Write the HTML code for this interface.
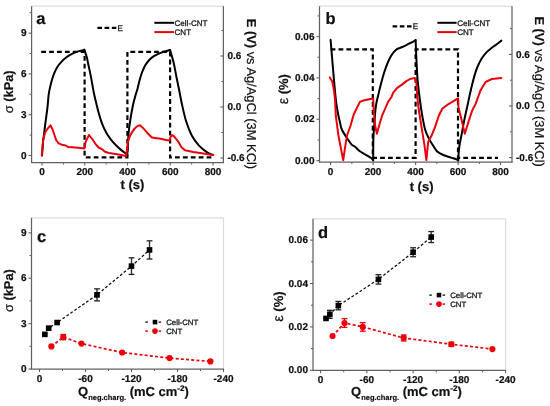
<!DOCTYPE html>
<html><head><meta charset="utf-8"><style>html,body{margin:0;padding:0;width:550px;height:406px;overflow:hidden;background:#fff}</style></head><body>
<svg width="550" height="406" viewBox="0 0 550 406" style="position:absolute;left:0;top:0;will-change:transform">
<rect width="550" height="406" fill="#fff"/>
<g font-family='"Liberation Sans", sans-serif' text-rendering="geometricPrecision">
<line x1="31.6" y1="6.2" x2="223.4" y2="6.2" stroke="#dcdcdc" stroke-width="1.2" />
<line x1="31.6" y1="6.2" x2="31.6" y2="163" stroke="#606060" stroke-width="1.25" />
<line x1="31.1" y1="162.5" x2="223.9" y2="162.5" stroke="#606060" stroke-width="1.25" />
<line x1="223.4" y1="6.2" x2="223.4" y2="163" stroke="#606060" stroke-width="1.25" />
<line x1="42" y1="162.5" x2="42" y2="165.5" stroke="#606060" stroke-width="1.1" />
<text x="42" y="175.4" font-size="10" font-weight="bold" text-anchor="middle" fill="#111" stroke="#111" stroke-width="0.22">0</text>
<line x1="84.75" y1="162.5" x2="84.75" y2="165.5" stroke="#606060" stroke-width="1.1" />
<text x="84.75" y="175.4" font-size="10" font-weight="bold" text-anchor="middle" fill="#111" stroke="#111" stroke-width="0.22">200</text>
<line x1="127.5" y1="162.5" x2="127.5" y2="165.5" stroke="#606060" stroke-width="1.1" />
<text x="127.5" y="175.4" font-size="10" font-weight="bold" text-anchor="middle" fill="#111" stroke="#111" stroke-width="0.22">400</text>
<line x1="170.25" y1="162.5" x2="170.25" y2="165.5" stroke="#606060" stroke-width="1.1" />
<text x="170.25" y="175.4" font-size="10" font-weight="bold" text-anchor="middle" fill="#111" stroke="#111" stroke-width="0.22">600</text>
<line x1="213" y1="162.5" x2="213" y2="165.5" stroke="#606060" stroke-width="1.1" />
<text x="213" y="175.4" font-size="10" font-weight="bold" text-anchor="middle" fill="#111" stroke="#111" stroke-width="0.22">800</text>
<line x1="63.38" y1="162.5" x2="63.38" y2="164.5" stroke="#606060" stroke-width="1" />
<line x1="106.12" y1="162.5" x2="106.12" y2="164.5" stroke="#606060" stroke-width="1" />
<line x1="148.88" y1="162.5" x2="148.88" y2="164.5" stroke="#606060" stroke-width="1" />
<line x1="191.62" y1="162.5" x2="191.62" y2="164.5" stroke="#606060" stroke-width="1" />
<line x1="28.6" y1="155.5" x2="31.6" y2="155.5" stroke="#606060" stroke-width="1.1" />
<text x="26.6" y="158.5" font-size="10" font-weight="bold" text-anchor="end" fill="#111" stroke="#111" stroke-width="0.22">0</text>
<line x1="28.6" y1="114.7" x2="31.6" y2="114.7" stroke="#606060" stroke-width="1.1" />
<text x="26.6" y="117.7" font-size="10" font-weight="bold" text-anchor="end" fill="#111" stroke="#111" stroke-width="0.22">3</text>
<line x1="28.6" y1="73.9" x2="31.6" y2="73.9" stroke="#606060" stroke-width="1.1" />
<text x="26.6" y="76.9" font-size="10" font-weight="bold" text-anchor="end" fill="#111" stroke="#111" stroke-width="0.22">6</text>
<line x1="28.6" y1="33.1" x2="31.6" y2="33.1" stroke="#606060" stroke-width="1.1" />
<text x="26.6" y="36.1" font-size="10" font-weight="bold" text-anchor="end" fill="#111" stroke="#111" stroke-width="0.22">9</text>
<line x1="29.6" y1="135.1" x2="31.6" y2="135.1" stroke="#606060" stroke-width="1" />
<line x1="29.6" y1="94.3" x2="31.6" y2="94.3" stroke="#606060" stroke-width="1" />
<line x1="29.6" y1="53.5" x2="31.6" y2="53.5" stroke="#606060" stroke-width="1" />
<line x1="29.6" y1="12.7" x2="31.6" y2="12.7" stroke="#606060" stroke-width="1" />
<line x1="220.4" y1="56" x2="223.4" y2="56" stroke="#606060" stroke-width="1.1" />
<text x="227.4" y="59.2" font-size="10" font-weight="bold" text-anchor="start" fill="#111" stroke="#111" stroke-width="0.22">0.6</text>
<line x1="220.4" y1="107" x2="223.4" y2="107" stroke="#606060" stroke-width="1.1" />
<text x="227.4" y="110.2" font-size="10" font-weight="bold" text-anchor="start" fill="#111" stroke="#111" stroke-width="0.22">0.0</text>
<line x1="220.4" y1="158" x2="223.4" y2="158" stroke="#606060" stroke-width="1.1" />
<text x="227.4" y="161.2" font-size="10" font-weight="bold" text-anchor="start" fill="#111" stroke="#111" stroke-width="0.22">-0.6</text>
<line x1="221.4" y1="30.5" x2="223.4" y2="30.5" stroke="#606060" stroke-width="1" />
<line x1="221.4" y1="81.5" x2="223.4" y2="81.5" stroke="#606060" stroke-width="1" />
<line x1="221.4" y1="132.5" x2="223.4" y2="132.5" stroke="#606060" stroke-width="1" />
<path d="M41.2 51.9 L84.6 51.9 L84.6 157.4 L127.4 157.4 L127.4 51.9 L170.1 51.9 L170.1 157.4 L213 157.4" fill="none" stroke="#000" stroke-width="2.2" stroke-dasharray="4.8 3.1"/>
<path d="M42 155.5 C42.1 154.25 42.4 150.58 42.6 148 C42.8 145.42 42.97 142.2 43.2 140 C43.43 137.8 43.67 137.38 44 134.8 C44.33 132.22 44.62 129.1 45.2 124.5 C45.78 119.9 46.93 112.12 47.5 107.2 C48.07 102.28 48.2 98.18 48.6 95 C49 91.82 49.38 90.48 49.9 88.1 C50.42 85.72 50.98 83.17 51.7 80.7 C52.42 78.23 53.28 75.55 54.2 73.3 C55.12 71.05 55.97 69.15 57.2 67.2 C58.43 65.25 60.05 63.25 61.6 61.6 C63.15 59.95 64.77 58.58 66.5 57.3 C68.23 56.02 70.05 54.88 72 53.9 C73.95 52.92 76.15 52.08 78.2 51.4 C80.25 50.72 83.28 50.07 84.3 49.8" fill="none" stroke="#000" stroke-width="2" stroke-linejoin="round" stroke-linecap="round"/>
<path d="M84.3 49.8 C84.72 51.05 86.08 54.62 86.8 57.3 C87.52 59.98 87.98 63.02 88.6 65.9 C89.22 68.78 89.88 71.52 90.5 74.6 C91.12 77.68 91.67 81 92.3 84.4 C92.93 87.8 93.65 91.9 94.3 95 C94.95 98.1 95.48 100.07 96.2 103 C96.92 105.93 97.8 109.67 98.6 112.6 C99.4 115.53 100.07 117.93 101 120.6 C101.93 123.27 103 126.07 104.2 128.6 C105.4 131.13 106.73 133.53 108.2 135.8 C109.67 138.07 111.27 140.2 113 142.2 C114.73 144.2 116.87 146.2 118.6 147.8 C120.33 149.4 121.93 150.6 123.4 151.8 C124.87 153 126.73 154.47 127.4 155" fill="none" stroke="#000" stroke-width="2" stroke-linejoin="round" stroke-linecap="round"/>
<path d="M127.2 155.5 C127.3 154.08 127.57 150.73 127.8 147 C128.03 143.27 128.12 138 128.6 133.1 C129.08 128.2 129.98 122.2 130.7 117.6 C131.42 113 132.1 109.23 132.9 105.5 C133.7 101.77 134.75 97.92 135.5 95.2 C136.25 92.48 136.75 91.57 137.4 89.2 C138.05 86.83 138.67 83.7 139.4 81 C140.13 78.3 140.87 75.53 141.8 73 C142.73 70.47 143.8 67.93 145 65.8 C146.2 63.67 147.53 61.8 149 60.2 C150.47 58.6 152.07 57.35 153.8 56.2 C155.53 55.05 157.53 54.1 159.4 53.3 C161.27 52.5 163.23 51.95 165 51.4 C166.77 50.85 169.17 50.23 170 50" fill="none" stroke="#000" stroke-width="2" stroke-linejoin="round" stroke-linecap="round"/>
<path d="M170 50 C170.58 52 172.45 57.63 173.5 62 C174.55 66.37 175.35 71.48 176.3 76.2 C177.25 80.92 178.25 85.58 179.2 90.3 C180.15 95.02 180.83 99.3 182 104.5 C183.17 109.7 184.55 116.3 186.2 121.5 C187.85 126.7 189.77 131.68 191.9 135.7 C194.03 139.72 196.4 142.78 199 145.6 C201.6 148.42 205.13 151.03 207.5 152.6 C209.87 154.17 212.25 154.6 213.2 155" fill="none" stroke="#000" stroke-width="2" stroke-linejoin="round" stroke-linecap="round"/>
<path d="M41.8 155.5 L42.5 147 L43.2 140 L44.9 133.1 L47.5 128.8 L50.4 125.3 L52.7 129.7 L54.4 134.8 L56.1 140 L58.7 143.4 L62.1 144.8 L65.6 145.5 L68 146.9 L72 147.3 L78 147.8 L84.4 148.4 L85.8 141.4 L89 135 L92.2 139 L95.4 143.8 L98.6 147.5 L101.8 149.1 L105 151.8 L109 153 L117 154.2 L126.1 156 L127.2 148.3 L127.8 142.2 L129.4 137.2 L131.7 132.7 L134.4 128.9 L137.2 126.1 L140 125.2 L142.7 127.7 L147.2 132.7 L151.6 137.2 L154.9 138.1 L160.5 138.8 L166 139.9 L169.5 140.5 L170.5 137.2 L172.1 135 L174.3 136.6 L178.2 141.6 L181.5 147.2 L185 150.2 L193.3 152 L201.8 153.2 L213.2 155" fill="none" stroke="#e8000b" stroke-width="2" stroke-linejoin="round" stroke-linecap="round"/>
<path d="M97.4 27.9 L116.4 27.9" fill="none" stroke="#000" stroke-width="2.1" stroke-dasharray="4.6 2.6"/>
<text x="117.4" y="30.8" font-size="8" font-weight="normal" text-anchor="start" fill="#1a1a1a" stroke="#1a1a1a" stroke-width="0.3">E</text>
<line x1="154.4" y1="22.8" x2="174" y2="22.8" stroke="#000" stroke-width="2" />
<line x1="154.4" y1="32.1" x2="174" y2="32.1" stroke="#e8000b" stroke-width="2" />
<text x="174.6" y="25.8" font-size="8" font-weight="normal" text-anchor="start" fill="#1a1a1a" stroke="#1a1a1a" stroke-width="0.3">Cell-CNT</text>
<text x="174.6" y="35.2" font-size="8" font-weight="normal" text-anchor="start" fill="#1a1a1a" stroke="#1a1a1a" stroke-width="0.3">CNT</text>
<text x="36.2" y="23.8" font-size="16.5" font-weight="bold" text-anchor="start" fill="#111" stroke="#111" stroke-width="0.22">a</text>
<text x="132.4" y="189.4" font-size="13" font-weight="bold" text-anchor="middle" fill="#111" stroke="#111" stroke-width="0.22">t (s)</text>
<text transform="translate(13.2 91.8) rotate(-90)" font-size="12.8" text-anchor="middle" fill="#111" stroke="#111" stroke-width="0.2"><tspan font-weight="normal">&#963;</tspan><tspan font-weight="bold"> (kPa)</tspan></text>
<text transform="translate(247.3 18.7) rotate(90)" font-size="12.9" text-anchor="start" fill="#111" stroke="#111" stroke-width="0.2"><tspan font-weight="bold">E (V)</tspan><tspan font-weight="normal"> vs Ag/AgCl (3M KCl)</tspan></text>
<line x1="319.5" y1="6.2" x2="512" y2="6.2" stroke="#dcdcdc" stroke-width="1.2" />
<line x1="319.5" y1="6.2" x2="319.5" y2="162.5" stroke="#606060" stroke-width="1.25" />
<line x1="319" y1="162" x2="512.5" y2="162" stroke="#606060" stroke-width="1.25" />
<line x1="512" y1="6.2" x2="512" y2="162.5" stroke="#606060" stroke-width="1.25" />
<line x1="330.6" y1="162" x2="330.6" y2="165" stroke="#606060" stroke-width="1.1" />
<text x="330.6" y="174.9" font-size="10" font-weight="bold" text-anchor="middle" fill="#111" stroke="#111" stroke-width="0.22">0</text>
<line x1="373.1" y1="162" x2="373.1" y2="165" stroke="#606060" stroke-width="1.1" />
<text x="373.1" y="174.9" font-size="10" font-weight="bold" text-anchor="middle" fill="#111" stroke="#111" stroke-width="0.22">200</text>
<line x1="415.6" y1="162" x2="415.6" y2="165" stroke="#606060" stroke-width="1.1" />
<text x="415.6" y="174.9" font-size="10" font-weight="bold" text-anchor="middle" fill="#111" stroke="#111" stroke-width="0.22">400</text>
<line x1="458.1" y1="162" x2="458.1" y2="165" stroke="#606060" stroke-width="1.1" />
<text x="458.1" y="174.9" font-size="10" font-weight="bold" text-anchor="middle" fill="#111" stroke="#111" stroke-width="0.22">600</text>
<line x1="500.6" y1="162" x2="500.6" y2="165" stroke="#606060" stroke-width="1.1" />
<text x="500.6" y="174.9" font-size="10" font-weight="bold" text-anchor="middle" fill="#111" stroke="#111" stroke-width="0.22">800</text>
<line x1="351.85" y1="162" x2="351.85" y2="164" stroke="#606060" stroke-width="1" />
<line x1="394.35" y1="162" x2="394.35" y2="164" stroke="#606060" stroke-width="1" />
<line x1="436.85" y1="162" x2="436.85" y2="164" stroke="#606060" stroke-width="1" />
<line x1="479.35" y1="162" x2="479.35" y2="164" stroke="#606060" stroke-width="1" />
<line x1="316.5" y1="160.6" x2="319.5" y2="160.6" stroke="#606060" stroke-width="1.1" />
<text x="314.5" y="163.6" font-size="10" font-weight="bold" text-anchor="end" fill="#111" stroke="#111" stroke-width="0.22">0.00</text>
<line x1="316.5" y1="119.27" x2="319.5" y2="119.27" stroke="#606060" stroke-width="1.1" />
<text x="314.5" y="122.27" font-size="10" font-weight="bold" text-anchor="end" fill="#111" stroke="#111" stroke-width="0.22">0.02</text>
<line x1="316.5" y1="77.94" x2="319.5" y2="77.94" stroke="#606060" stroke-width="1.1" />
<text x="314.5" y="80.94" font-size="10" font-weight="bold" text-anchor="end" fill="#111" stroke="#111" stroke-width="0.22">0.04</text>
<line x1="316.5" y1="36.61" x2="319.5" y2="36.61" stroke="#606060" stroke-width="1.1" />
<text x="314.5" y="39.61" font-size="10" font-weight="bold" text-anchor="end" fill="#111" stroke="#111" stroke-width="0.22">0.06</text>
<line x1="317.5" y1="139.94" x2="319.5" y2="139.94" stroke="#606060" stroke-width="1" />
<line x1="317.5" y1="98.6" x2="319.5" y2="98.6" stroke="#606060" stroke-width="1" />
<line x1="317.5" y1="57.27" x2="319.5" y2="57.27" stroke="#606060" stroke-width="1" />
<line x1="317.5" y1="15.94" x2="319.5" y2="15.94" stroke="#606060" stroke-width="1" />
<line x1="509" y1="54.4" x2="512" y2="54.4" stroke="#606060" stroke-width="1.1" />
<text x="516" y="57.6" font-size="10" font-weight="bold" text-anchor="start" fill="#111" stroke="#111" stroke-width="0.22">0.6</text>
<line x1="509" y1="106" x2="512" y2="106" stroke="#606060" stroke-width="1.1" />
<text x="516" y="109.2" font-size="10" font-weight="bold" text-anchor="start" fill="#111" stroke="#111" stroke-width="0.22">0.0</text>
<line x1="509" y1="157.6" x2="512" y2="157.6" stroke="#606060" stroke-width="1.1" />
<text x="516" y="160.8" font-size="10" font-weight="bold" text-anchor="start" fill="#111" stroke="#111" stroke-width="0.22">-0.6</text>
<line x1="510" y1="28.6" x2="512" y2="28.6" stroke="#606060" stroke-width="1" />
<line x1="510" y1="80.2" x2="512" y2="80.2" stroke="#606060" stroke-width="1" />
<line x1="510" y1="131.8" x2="512" y2="131.8" stroke="#606060" stroke-width="1" />
<path d="M330.6 49.4 L372.8 49.4 L372.8 157.9 L415.6 157.9 L415.6 49.4 L458 49.4 L458 157.9 L498 157.9" fill="none" stroke="#000" stroke-width="2.2" stroke-dasharray="4.8 3.1"/>
<path d="M330.6 39.8 C330.87 43 331.67 52.6 332.2 59 C332.73 65.4 333.18 71.37 333.8 78.2 C334.42 85.03 335.23 94.28 335.9 100 C336.57 105.72 337.12 108.75 337.8 112.5 C338.48 116.25 339.33 119.67 340 122.5 C340.67 125.33 340.77 127.1 341.8 129.5 C342.83 131.9 344.6 134.43 346.2 136.9 C347.8 139.37 349.92 142.65 351.4 144.3 C352.88 145.95 353.75 145.68 355.1 146.8 C356.45 147.92 357.7 149.67 359.5 151 C361.3 152.33 363.97 153.63 365.9 154.8 C367.83 155.97 369.88 157.1 371.1 158 C372.32 158.9 372.85 159.83 373.2 160.2" fill="none" stroke="#000" stroke-width="2" stroke-linejoin="round" stroke-linecap="round"/>
<path d="M373.2 160.2 C373.23 156.5 373.17 144.55 373.4 138 C373.63 131.45 374.3 125.2 374.6 120.9 C374.9 116.6 374.92 115.08 375.2 112.2 C375.48 109.32 375.83 106.3 376.3 103.6 C376.77 100.9 377.18 99.43 378 96 C378.82 92.57 380.13 87.03 381.2 83 C382.27 78.97 383.33 75.13 384.4 71.8 C385.47 68.47 386.4 65.8 387.6 63 C388.8 60.2 390.13 57.27 391.6 55 C393.07 52.73 394.93 50.6 396.4 49.4 C397.87 48.2 399.07 48.33 400.4 47.8 C401.73 47.27 403.07 46.87 404.4 46.2 C405.73 45.53 407.07 44.47 408.4 43.8 C409.73 43.13 411.2 42.82 412.4 42.2 C413.6 41.58 415.07 40.45 415.6 40.1" fill="none" stroke="#000" stroke-width="2" stroke-linejoin="round" stroke-linecap="round"/>
<path d="M415.6 40.1 C415.73 43.25 416.07 52.38 416.4 59 C416.73 65.62 417.02 72.97 417.6 79.8 C418.18 86.63 419.15 94.17 419.9 100 C420.65 105.83 421.23 109.88 422.1 114.8 C422.97 119.72 423.98 125.57 425.1 129.5 C426.22 133.43 427.45 135.68 428.8 138.4 C430.15 141.12 431.85 143.67 433.2 145.8 C434.55 147.93 435.55 149.83 436.9 151.2 C438.25 152.57 439.78 153.2 441.3 154 C442.82 154.8 444.38 155.4 446 156 C447.62 156.6 449.28 157.07 451 157.6 C452.72 158.13 455.1 158.75 456.3 159.2 C457.5 159.65 457.88 160.12 458.2 160.3" fill="none" stroke="#000" stroke-width="2" stroke-linejoin="round" stroke-linecap="round"/>
<path d="M458.2 160.3 C458.38 158.03 458.68 151.27 459.3 146.7 C459.92 142.13 461.03 137.5 461.9 132.9 C462.77 128.3 463.5 123.98 464.5 119.1 C465.5 114.22 467.03 107.62 467.9 103.6 C468.77 99.58 469.18 97.37 469.7 95 C470.22 92.63 470.25 92.47 471 89.4 C471.75 86.33 473.13 80.33 474.2 76.6 C475.27 72.87 476.2 69.93 477.4 67 C478.6 64.07 479.93 61.4 481.4 59 C482.87 56.6 484.47 54.47 486.2 52.6 C487.93 50.73 489.93 49.27 491.8 47.8 C493.67 46.33 495.8 45 497.4 43.8 C499 42.6 500.73 41.13 501.4 40.6" fill="none" stroke="#000" stroke-width="2" stroke-linejoin="round" stroke-linecap="round"/>
<path d="M329.8 77.4 L332.2 81.4 L333.8 89.4 L335 99 L335.8 115.7 L338.3 134.7 L340.9 148.4 L343.2 160.2 L345.2 146.7 L347 135.5 L350.4 126 L353.9 114 L357.3 107.1 L359.9 101.9 L364.2 100.2 L373.2 98.4 L373.8 112 L375.2 126 L376.9 133.8 L379.5 124.3 L382.1 115.7 L385.5 107.9 L388.1 101.9 L391.6 96.7 L393.2 92.6 L397.2 87.8 L402 84.6 L406 81.4 L410 79 L414.8 77.9 L416.4 83 L417.2 96 L418.6 108.5 L421.5 126.9 L424.5 145.4 L426.4 160.1 L428.2 141.7 L431.4 136.1 L435.1 126.9 L438.8 115.8 L442.4 108.5 L448.9 103.8 L458.1 98.3 L458.4 107.1 L461 117.4 L464.8 133.8 L468.8 120.9 L472.2 110.5 L475.7 103.6 L480.6 90.2 L485.4 82.2 L491.8 79 L501.4 77.9" fill="none" stroke="#e8000b" stroke-width="2" stroke-linejoin="round" stroke-linecap="round"/>
<path d="M392.6 26.4 L411.8 26.4" fill="none" stroke="#000" stroke-width="2.1" stroke-dasharray="4.6 2.6"/>
<text x="412.8" y="29.3" font-size="8" font-weight="normal" text-anchor="start" fill="#1a1a1a" stroke="#1a1a1a" stroke-width="0.3">E</text>
<line x1="437.4" y1="22.8" x2="456.6" y2="22.8" stroke="#000" stroke-width="2" />
<line x1="437.4" y1="32.1" x2="456.6" y2="32.1" stroke="#e8000b" stroke-width="2" />
<text x="457.3" y="25.8" font-size="8" font-weight="normal" text-anchor="start" fill="#1a1a1a" stroke="#1a1a1a" stroke-width="0.3">Cell-CNT</text>
<text x="457.3" y="35.2" font-size="8" font-weight="normal" text-anchor="start" fill="#1a1a1a" stroke="#1a1a1a" stroke-width="0.3">CNT</text>
<text x="325.4" y="24" font-size="16.5" font-weight="bold" text-anchor="start" fill="#111" stroke="#111" stroke-width="0.22">b</text>
<text x="421.6" y="191" font-size="13" font-weight="bold" text-anchor="middle" fill="#111" stroke="#111" stroke-width="0.22">t (s)</text>
<text transform="translate(287.8 89.2) rotate(-90)" font-size="13" text-anchor="middle" fill="#111" stroke="#111" stroke-width="0.2"><tspan font-weight="normal" font-size="14.5">&#949;</tspan><tspan font-weight="bold"> (%)</tspan></text>
<text transform="translate(535.2 16.4) rotate(90)" font-size="12.9" text-anchor="start" fill="#111" stroke="#111" stroke-width="0.2"><tspan font-weight="bold">E (V)</tspan><tspan font-weight="normal"> vs Ag/AgCl (3M KCl)</tspan></text>
<line x1="31.5" y1="217.8" x2="223.5" y2="217.8" stroke="#dcdcdc" stroke-width="1.2" />
<line x1="223.5" y1="217.8" x2="223.5" y2="369" stroke="#dcdcdc" stroke-width="1.2" />
<line x1="31.5" y1="217.8" x2="31.5" y2="369.5" stroke="#606060" stroke-width="1.25" />
<line x1="31" y1="369" x2="224" y2="369" stroke="#606060" stroke-width="1.25" />
<line x1="39.5" y1="369" x2="39.5" y2="372" stroke="#606060" stroke-width="1.1" />
<text x="39.5" y="381.9" font-size="10" font-weight="bold" text-anchor="middle" fill="#111" stroke="#111" stroke-width="0.22">0</text>
<line x1="85.5" y1="369" x2="85.5" y2="372" stroke="#606060" stroke-width="1.1" />
<text x="85.5" y="381.9" font-size="10" font-weight="bold" text-anchor="middle" fill="#111" stroke="#111" stroke-width="0.22">-60</text>
<line x1="131.5" y1="369" x2="131.5" y2="372" stroke="#606060" stroke-width="1.1" />
<text x="131.5" y="381.9" font-size="10" font-weight="bold" text-anchor="middle" fill="#111" stroke="#111" stroke-width="0.22">-120</text>
<line x1="177.5" y1="369" x2="177.5" y2="372" stroke="#606060" stroke-width="1.1" />
<text x="177.5" y="381.9" font-size="10" font-weight="bold" text-anchor="middle" fill="#111" stroke="#111" stroke-width="0.22">-180</text>
<line x1="223.5" y1="369" x2="223.5" y2="372" stroke="#606060" stroke-width="1.1" />
<text x="223.5" y="381.9" font-size="10" font-weight="bold" text-anchor="middle" fill="#111" stroke="#111" stroke-width="0.22">-240</text>
<line x1="62.5" y1="369" x2="62.5" y2="371" stroke="#606060" stroke-width="1" />
<line x1="108.5" y1="369" x2="108.5" y2="371" stroke="#606060" stroke-width="1" />
<line x1="154.5" y1="369" x2="154.5" y2="371" stroke="#606060" stroke-width="1" />
<line x1="200.5" y1="369" x2="200.5" y2="371" stroke="#606060" stroke-width="1" />
<line x1="28.5" y1="369" x2="31.5" y2="369" stroke="#606060" stroke-width="1.1" />
<text x="26.5" y="372" font-size="10" font-weight="bold" text-anchor="end" fill="#111" stroke="#111" stroke-width="0.22">0</text>
<line x1="28.5" y1="323.61" x2="31.5" y2="323.61" stroke="#606060" stroke-width="1.1" />
<text x="26.5" y="326.61" font-size="10" font-weight="bold" text-anchor="end" fill="#111" stroke="#111" stroke-width="0.22">3</text>
<line x1="28.5" y1="278.22" x2="31.5" y2="278.22" stroke="#606060" stroke-width="1.1" />
<text x="26.5" y="281.22" font-size="10" font-weight="bold" text-anchor="end" fill="#111" stroke="#111" stroke-width="0.22">6</text>
<line x1="28.5" y1="232.83" x2="31.5" y2="232.83" stroke="#606060" stroke-width="1.1" />
<text x="26.5" y="235.83" font-size="10" font-weight="bold" text-anchor="end" fill="#111" stroke="#111" stroke-width="0.22">9</text>
<line x1="29.5" y1="346.31" x2="31.5" y2="346.31" stroke="#606060" stroke-width="1" />
<line x1="29.5" y1="300.91" x2="31.5" y2="300.91" stroke="#606060" stroke-width="1" />
<line x1="29.5" y1="255.52" x2="31.5" y2="255.52" stroke="#606060" stroke-width="1" />
<path d="M44.87 334.35 L48.7 328.15 L57.13 322.55 L97 294.86 L131.5 266.12 L149.52 249.93" fill="none" stroke="#111" stroke-width="1.3" stroke-dasharray="2.8 2"/>
<path d="M51.38 346.46 L63.27 337.08 L81.44 343.58 L122.15 352.51 L169.53 358.11 L210.39 361.44" fill="none" stroke="#e8000b" stroke-width="1.7" stroke-dasharray="3 2.2"/>
<line x1="97" y1="288.86" x2="97" y2="300.86" stroke="#333" stroke-width="1.4" />
<line x1="94.1" y1="288.86" x2="99.9" y2="288.86" stroke="#222" stroke-width="1.3" />
<line x1="94.1" y1="300.86" x2="99.9" y2="300.86" stroke="#222" stroke-width="1.3" />
<line x1="131.5" y1="257.82" x2="131.5" y2="274.42" stroke="#333" stroke-width="1.4" />
<line x1="128.6" y1="257.82" x2="134.4" y2="257.82" stroke="#222" stroke-width="1.3" />
<line x1="128.6" y1="274.42" x2="134.4" y2="274.42" stroke="#222" stroke-width="1.3" />
<line x1="149.52" y1="240.83" x2="149.52" y2="259.03" stroke="#333" stroke-width="1.4" />
<line x1="146.62" y1="240.83" x2="152.42" y2="240.83" stroke="#222" stroke-width="1.3" />
<line x1="146.62" y1="259.03" x2="152.42" y2="259.03" stroke="#222" stroke-width="1.3" />
<line x1="63.27" y1="334.48" x2="63.27" y2="339.68" stroke="#e8000b" stroke-width="1.4" />
<line x1="60.37" y1="334.48" x2="66.17" y2="334.48" stroke="#e8000b" stroke-width="1.3" />
<line x1="60.37" y1="339.68" x2="66.17" y2="339.68" stroke="#e8000b" stroke-width="1.3" />
<rect x="42.07" y="331.55" width="5.6" height="5.6" fill="#000"/>
<rect x="45.9" y="325.35" width="5.6" height="5.6" fill="#000"/>
<rect x="54.33" y="319.75" width="5.6" height="5.6" fill="#000"/>
<rect x="94.2" y="292.06" width="5.6" height="5.6" fill="#000"/>
<rect x="128.7" y="263.32" width="5.6" height="5.6" fill="#000"/>
<rect x="146.72" y="247.13" width="5.6" height="5.6" fill="#000"/>
<circle cx="51.38" cy="346.46" r="3.1" fill="#e8000b"/>
<circle cx="63.27" cy="337.08" r="3.1" fill="#e8000b"/>
<circle cx="81.44" cy="343.58" r="3.1" fill="#e8000b"/>
<circle cx="122.15" cy="352.51" r="3.1" fill="#e8000b"/>
<circle cx="169.53" cy="358.11" r="3.1" fill="#e8000b"/>
<circle cx="210.39" cy="361.44" r="3.1" fill="#e8000b"/>
<line x1="145.4" y1="322.1" x2="147.8" y2="322.1" stroke="#111" stroke-width="1.4" />
<line x1="158.6" y1="322.1" x2="161.1" y2="322.1" stroke="#111" stroke-width="1.3" />
<rect x="152.7" y="319.8" width="4.6" height="4.6" fill="#000"/>
<text x="166.2" y="325" font-size="7.8" font-weight="normal" text-anchor="start" fill="#1a1a1a" stroke="#1a1a1a" stroke-width="0.3">Cell-CNT</text>
<line x1="145.4" y1="331.1" x2="147.8" y2="331.1" stroke="#e8000b" stroke-width="1.6" />
<line x1="158.6" y1="331.1" x2="161.1" y2="331.1" stroke="#e8000b" stroke-width="1.5" />
<circle cx="155" cy="331.1" r="2.8" fill="#e8000b"/>
<text x="166.2" y="334" font-size="7.8" font-weight="normal" text-anchor="start" fill="#1a1a1a" stroke="#1a1a1a" stroke-width="0.3">CNT</text>
<text x="37" y="242.2" font-size="16.5" font-weight="bold" text-anchor="start" fill="#111" stroke="#111" stroke-width="0.22">c</text>
<text transform="translate(13.4 290.6) rotate(-90)" font-size="12.8" text-anchor="middle" fill="#111" stroke="#111" stroke-width="0.2"><tspan font-weight="normal">&#963;</tspan><tspan font-weight="bold"> (kPa)</tspan></text>
<text x="78" y="395.5" font-size="13" font-weight="bold" fill="#111" stroke="#111" stroke-width="0.2">Q<tspan font-size="7.5" dy="4">neg.charg.</tspan><tspan dy="-4"> (mC cm</tspan><tspan font-size="8" dy="-5">-2</tspan><tspan dy="5">)</tspan></text>
<line x1="313" y1="218.8" x2="505.6" y2="218.8" stroke="#dcdcdc" stroke-width="1.2" />
<line x1="505.6" y1="218.8" x2="505.6" y2="370.3" stroke="#dcdcdc" stroke-width="1.2" />
<line x1="313" y1="218.8" x2="313" y2="370.8" stroke="#606060" stroke-width="1.25" />
<line x1="312.5" y1="370.3" x2="506.1" y2="370.3" stroke="#606060" stroke-width="1.25" />
<line x1="320.6" y1="370.3" x2="320.6" y2="373.3" stroke="#606060" stroke-width="1.1" />
<text x="320.6" y="383.2" font-size="10" font-weight="bold" text-anchor="middle" fill="#111" stroke="#111" stroke-width="0.22">0</text>
<line x1="366.85" y1="370.3" x2="366.85" y2="373.3" stroke="#606060" stroke-width="1.1" />
<text x="366.85" y="383.2" font-size="10" font-weight="bold" text-anchor="middle" fill="#111" stroke="#111" stroke-width="0.22">-60</text>
<line x1="413.1" y1="370.3" x2="413.1" y2="373.3" stroke="#606060" stroke-width="1.1" />
<text x="413.1" y="383.2" font-size="10" font-weight="bold" text-anchor="middle" fill="#111" stroke="#111" stroke-width="0.22">-120</text>
<line x1="459.35" y1="370.3" x2="459.35" y2="373.3" stroke="#606060" stroke-width="1.1" />
<text x="459.35" y="383.2" font-size="10" font-weight="bold" text-anchor="middle" fill="#111" stroke="#111" stroke-width="0.22">-180</text>
<line x1="505.6" y1="370.3" x2="505.6" y2="373.3" stroke="#606060" stroke-width="1.1" />
<text x="505.6" y="383.2" font-size="10" font-weight="bold" text-anchor="middle" fill="#111" stroke="#111" stroke-width="0.22">-240</text>
<line x1="343.73" y1="370.3" x2="343.73" y2="372.3" stroke="#606060" stroke-width="1" />
<line x1="389.98" y1="370.3" x2="389.98" y2="372.3" stroke="#606060" stroke-width="1" />
<line x1="436.23" y1="370.3" x2="436.23" y2="372.3" stroke="#606060" stroke-width="1" />
<line x1="482.48" y1="370.3" x2="482.48" y2="372.3" stroke="#606060" stroke-width="1" />
<line x1="310" y1="370.3" x2="313" y2="370.3" stroke="#606060" stroke-width="1.1" />
<text x="308" y="373.3" font-size="10" font-weight="bold" text-anchor="end" fill="#111" stroke="#111" stroke-width="0.22">0.00</text>
<line x1="310" y1="326.9" x2="313" y2="326.9" stroke="#606060" stroke-width="1.1" />
<text x="308" y="329.9" font-size="10" font-weight="bold" text-anchor="end" fill="#111" stroke="#111" stroke-width="0.22">0.02</text>
<line x1="310" y1="283.5" x2="313" y2="283.5" stroke="#606060" stroke-width="1.1" />
<text x="308" y="286.5" font-size="10" font-weight="bold" text-anchor="end" fill="#111" stroke="#111" stroke-width="0.22">0.04</text>
<line x1="310" y1="240.1" x2="313" y2="240.1" stroke="#606060" stroke-width="1.1" />
<text x="308" y="243.1" font-size="10" font-weight="bold" text-anchor="end" fill="#111" stroke="#111" stroke-width="0.22">0.06</text>
<line x1="311" y1="348.6" x2="313" y2="348.6" stroke="#606060" stroke-width="1" />
<line x1="311" y1="305.2" x2="313" y2="305.2" stroke="#606060" stroke-width="1" />
<line x1="311" y1="261.8" x2="313" y2="261.8" stroke="#606060" stroke-width="1" />
<path d="M326 318.44 L329.85 314.31 L338.33 305.63 L378.41 279.38 L413.1 252.25 L431.21 237.06" fill="none" stroke="#111" stroke-width="1.3" stroke-dasharray="2.8 2"/>
<path d="M332.55 336.01 L344.5 322.99 L362.76 326.9 L403.7 337.97 L451.33 344.26 L492.42 349.03" fill="none" stroke="#e8000b" stroke-width="1.7" stroke-dasharray="3 2.2"/>
<line x1="329.85" y1="310.31" x2="329.85" y2="318.31" stroke="#333" stroke-width="1.4" />
<line x1="326.95" y1="310.31" x2="332.75" y2="310.31" stroke="#222" stroke-width="1.3" />
<line x1="326.95" y1="318.31" x2="332.75" y2="318.31" stroke="#222" stroke-width="1.3" />
<line x1="338.33" y1="301.43" x2="338.33" y2="309.83" stroke="#333" stroke-width="1.4" />
<line x1="335.43" y1="301.43" x2="341.23" y2="301.43" stroke="#222" stroke-width="1.3" />
<line x1="335.43" y1="309.83" x2="341.23" y2="309.83" stroke="#222" stroke-width="1.3" />
<line x1="378.41" y1="274.68" x2="378.41" y2="284.08" stroke="#333" stroke-width="1.4" />
<line x1="375.51" y1="274.68" x2="381.31" y2="274.68" stroke="#222" stroke-width="1.3" />
<line x1="375.51" y1="284.08" x2="381.31" y2="284.08" stroke="#222" stroke-width="1.3" />
<line x1="413.1" y1="247.75" x2="413.1" y2="256.75" stroke="#333" stroke-width="1.4" />
<line x1="410.2" y1="247.75" x2="416" y2="247.75" stroke="#222" stroke-width="1.3" />
<line x1="410.2" y1="256.75" x2="416" y2="256.75" stroke="#222" stroke-width="1.3" />
<line x1="431.21" y1="231.56" x2="431.21" y2="242.56" stroke="#333" stroke-width="1.4" />
<line x1="428.31" y1="231.56" x2="434.11" y2="231.56" stroke="#222" stroke-width="1.3" />
<line x1="428.31" y1="242.56" x2="434.11" y2="242.56" stroke="#222" stroke-width="1.3" />
<line x1="344.5" y1="318.59" x2="344.5" y2="327.39" stroke="#e8000b" stroke-width="1.4" />
<line x1="341.6" y1="318.59" x2="347.4" y2="318.59" stroke="#e8000b" stroke-width="1.3" />
<line x1="341.6" y1="327.39" x2="347.4" y2="327.39" stroke="#e8000b" stroke-width="1.3" />
<line x1="362.76" y1="322.6" x2="362.76" y2="331.2" stroke="#e8000b" stroke-width="1.4" />
<line x1="359.86" y1="322.6" x2="365.66" y2="322.6" stroke="#e8000b" stroke-width="1.3" />
<line x1="359.86" y1="331.2" x2="365.66" y2="331.2" stroke="#e8000b" stroke-width="1.3" />
<line x1="403.7" y1="334.97" x2="403.7" y2="340.97" stroke="#e8000b" stroke-width="1.4" />
<line x1="400.8" y1="334.97" x2="406.6" y2="334.97" stroke="#e8000b" stroke-width="1.3" />
<line x1="400.8" y1="340.97" x2="406.6" y2="340.97" stroke="#e8000b" stroke-width="1.3" />
<line x1="451.33" y1="342.26" x2="451.33" y2="346.26" stroke="#e8000b" stroke-width="1.4" />
<line x1="448.43" y1="342.26" x2="454.23" y2="342.26" stroke="#e8000b" stroke-width="1.3" />
<line x1="448.43" y1="346.26" x2="454.23" y2="346.26" stroke="#e8000b" stroke-width="1.3" />
<rect x="323.2" y="315.64" width="5.6" height="5.6" fill="#000"/>
<rect x="327.05" y="311.51" width="5.6" height="5.6" fill="#000"/>
<rect x="335.53" y="302.83" width="5.6" height="5.6" fill="#000"/>
<rect x="375.61" y="276.58" width="5.6" height="5.6" fill="#000"/>
<rect x="410.3" y="249.45" width="5.6" height="5.6" fill="#000"/>
<rect x="428.41" y="234.26" width="5.6" height="5.6" fill="#000"/>
<circle cx="332.55" cy="336.01" r="3.1" fill="#e8000b"/>
<circle cx="344.5" cy="322.99" r="3.1" fill="#e8000b"/>
<circle cx="362.76" cy="326.9" r="3.1" fill="#e8000b"/>
<circle cx="403.7" cy="337.97" r="3.1" fill="#e8000b"/>
<circle cx="451.33" cy="344.26" r="3.1" fill="#e8000b"/>
<circle cx="492.42" cy="349.03" r="3.1" fill="#e8000b"/>
<line x1="429.4" y1="295.1" x2="431.8" y2="295.1" stroke="#111" stroke-width="1.4" />
<line x1="442.6" y1="295.1" x2="445.1" y2="295.1" stroke="#111" stroke-width="1.3" />
<rect x="436.7" y="292.8" width="4.6" height="4.6" fill="#000"/>
<text x="450.2" y="298" font-size="7.8" font-weight="normal" text-anchor="start" fill="#1a1a1a" stroke="#1a1a1a" stroke-width="0.3">Cell-CNT</text>
<line x1="429.4" y1="304.1" x2="431.8" y2="304.1" stroke="#e8000b" stroke-width="1.6" />
<line x1="442.6" y1="304.1" x2="445.1" y2="304.1" stroke="#e8000b" stroke-width="1.5" />
<circle cx="439" cy="304.1" r="2.8" fill="#e8000b"/>
<text x="450.2" y="307" font-size="7.8" font-weight="normal" text-anchor="start" fill="#1a1a1a" stroke="#1a1a1a" stroke-width="0.3">CNT</text>
<text x="318" y="238.2" font-size="16.5" font-weight="bold" text-anchor="start" fill="#111" stroke="#111" stroke-width="0.22">d</text>
<text transform="translate(282.6 306.6) rotate(-90)" font-size="13" text-anchor="middle" fill="#111" stroke="#111" stroke-width="0.2"><tspan font-weight="normal" font-size="14.5">&#949;</tspan><tspan font-weight="bold"> (%)</tspan></text>
<text x="351" y="395.5" font-size="13" font-weight="bold" fill="#111" stroke="#111" stroke-width="0.2">Q<tspan font-size="7.5" dy="4">neg.charg.</tspan><tspan dy="-4"> (mC cm</tspan><tspan font-size="8" dy="-5">-2</tspan><tspan dy="5">)</tspan></text>
</g></svg>
</body></html>
